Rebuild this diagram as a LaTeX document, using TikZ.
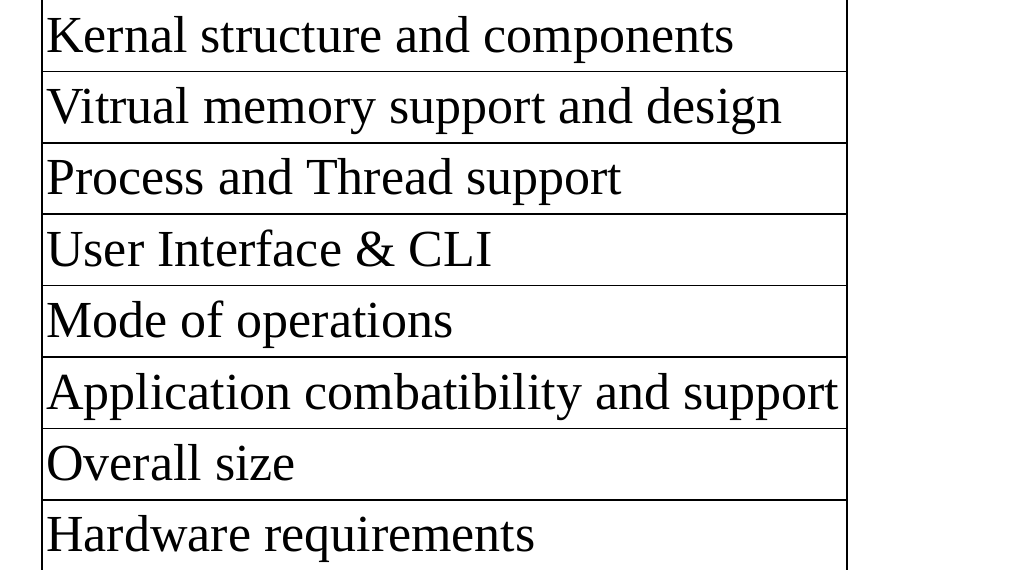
\documentclass[tikz,border=0pt]{standalone}
\usepackage{fontspec}
\setmainfont{Liberation Serif}
\begin{document}
\begin{tikzpicture}[x=1pt,y=-1pt,cell/.style={anchor=base west,inner sep=0pt,font=\fontsize{52}{56}\selectfont}]
\useasboundingbox (0,0) rectangle (1024,570);
\draw[line width=1.5pt] (42,0) -- (42,570) (847,0) -- (847,570);
\foreach \y in {1,...,7} \draw[line width=1.5pt] (42,{\y*71.4}) -- (847,{\y*71.4});
\foreach [count=\i from 0] \t in {Kernal structure and components,Vitrual memory support and design,Process and Thread support,User Interface \& CLI,Mode of operations,Application combatibility and support,Overall size,Hardware requirements}
  \node[cell] (r\i) at (46,{\i*71.4+52}) {\t};
\end{tikzpicture}
\end{document}
